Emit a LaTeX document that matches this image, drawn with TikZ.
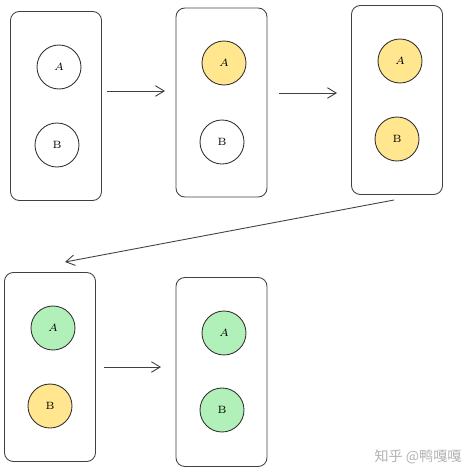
\documentclass[tikz,border=0pt]{standalone}
\usepackage{fontspec}
\newfontfamily\cjk{Noto Sans CJK SC}
\usetikzlibrary{arrows.meta}
\definecolor{dotyellow}{HTML}{FFE68F}
\definecolor{dotgreen}{HTML}{B2F0BA}
\tikzset{%
  >={Straight Barb[length=5pt,width=6pt]},
  frame/.style={draw=black!75,rectangle,rounded corners=5pt,minimum width=1.82cm,minimum height=3.78cm,line width=0.5pt},
  dot/.style={draw=black!80,circle,minimum size=0.88cm,inner sep=0pt,line width=0.5pt,font=\fontsize{6}{7}\selectfont},
  line/.style={draw=black!75,line width=0.5pt,->}
}
\begin{document}
\begin{tikzpicture}[x=0.02cm,y=-0.02cm]
	\useasboundingbox (0,0) rectangle (474,476);
	% boxes
	\node[frame] (box1) at (56,106) {};
	\node[frame] (box2) at (221.5,102.5) {};
	\node[frame] (box3) at (397,100) {};
	\node[frame] (box4) at (50,367) {};
	\node[frame] (box5) at (221.5,372) {};
	% states
	\node[dot] (a1) at (59,67) {$A$};
	\node[dot] (b1) at (57,145) {B};
	\node[dot,fill=dotyellow] (a2) at (224,63) {$A$};
	\node[dot] (b2) at (222,142) {B};
	\node[dot,fill=dotyellow] (a3) at (400,61) {$A$};
	\node[dot,fill=dotyellow] (b3) at (397,139) {B};
	\node[dot,fill=dotgreen] (a4) at (53,328) {$A$};
	\node[dot,fill=dotyellow] (b4) at (50,406) {B};
	\node[dot,fill=dotgreen] (a5) at (224,333) {$A$};
	\node[dot,fill=dotgreen] (b5) at (222,410) {B};
	% steps
	\coordinate (s1) at (107,91);
	\coordinate (e1) at (165,91);
	\coordinate (s2) at (279,93);
	\coordinate (e2) at (337,93);
	\coordinate (s3) at (394,200);
	\coordinate (e3) at (65,262);
	\coordinate (s4) at (104,367);
	\coordinate (e4) at (161,367);
	\draw[line] (s1) -- (e1);
	\draw[line] (s2) -- (e2);
	\draw[line] (s3) -- (e3);
	\draw[line] (s4) -- (e4);
	\node[text=black!30,font=\cjk\fontsize{8}{9}\selectfont] (mark) at (418,457) {知乎 @鸭嘎嘎};
\end{tikzpicture}
\end{document}
